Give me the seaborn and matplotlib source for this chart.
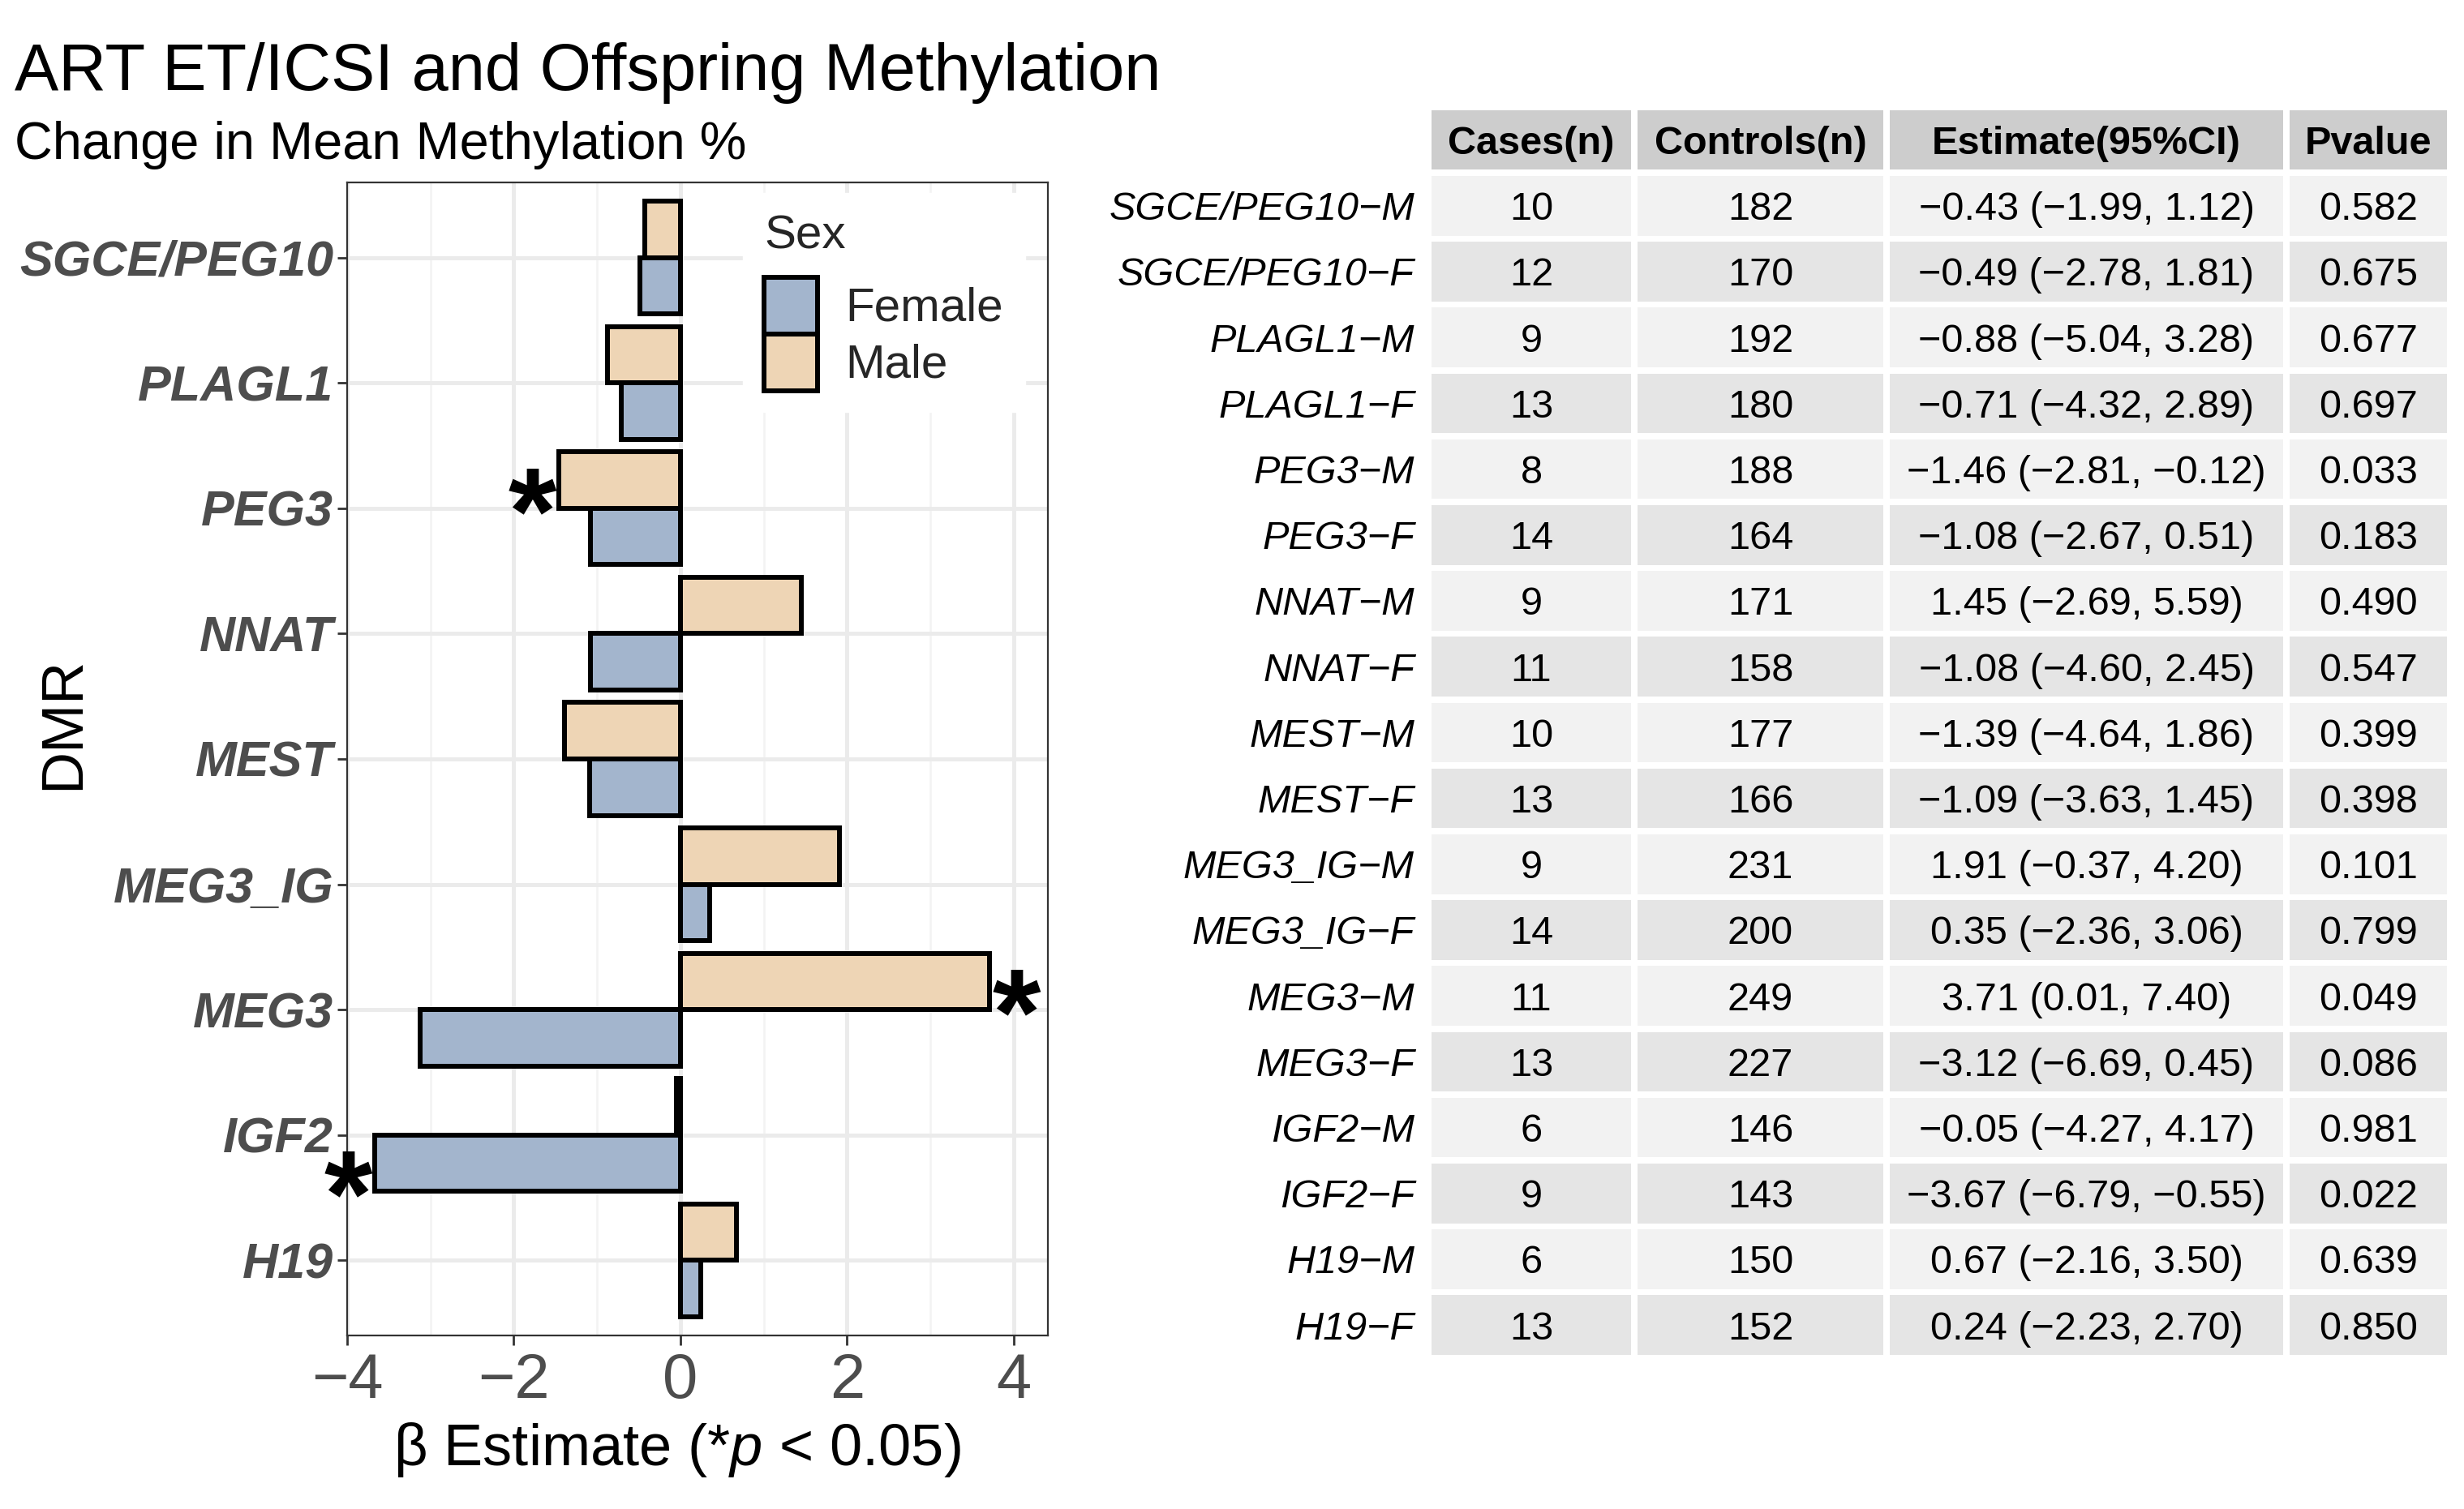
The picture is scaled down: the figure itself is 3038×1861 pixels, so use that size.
import numpy as np
import pandas as pd
import matplotlib
matplotlib.use("Agg")
import matplotlib.pyplot as plt
from matplotlib.patches import Patch, Rectangle
from matplotlib.ticker import MultipleLocator
import seaborn as sns

# ---------------- data ----------------
dmr = ['SGCE/PEG10', 'PLAGL1', 'PEG3', 'NNAT', 'MEST', 'MEG3_IG', 'MEG3', 'IGF2', 'H19']
est_m = [-0.43, -0.88, -1.46, 1.45, -1.39, 1.91, 3.71, -0.05, 0.67]
est_f = [-0.49, -0.71, -1.08, -1.08, -1.09, 0.35, -3.12, -3.67, 0.24]
lo_m = [-1.99, -5.04, -2.81, -2.69, -4.64, -0.37, 0.01, -4.27, -2.16]
hi_m = [1.12, 3.28, -0.12, 5.59, 1.86, 4.20, 7.40, 4.17, 3.50]
lo_f = [-2.78, -4.32, -2.67, -4.60, -3.63, -2.36, -6.69, -6.79, -2.23]
hi_f = [1.81, 2.89, 0.51, 2.45, 1.45, 3.06, 0.45, -0.55, 2.70]
cases_m = [10, 9, 8, 9, 10, 9, 11, 6, 6]
cases_f = [12, 13, 14, 11, 13, 14, 13, 9, 13]
ctrl_m = [182, 192, 188, 171, 177, 231, 249, 146, 150]
ctrl_f = [170, 180, 164, 158, 166, 200, 227, 143, 152]
p_m = [0.582, 0.677, 0.033, 0.490, 0.399, 0.101, 0.049, 0.981, 0.639]
p_f = [0.675, 0.697, 0.183, 0.547, 0.398, 0.799, 0.086, 0.022, 0.850]
table_cols = ['Cases(n)', 'Controls(n)', 'Estimate(95%CI)', 'Pvalue']

FEMALE = '#A3B5CD'
MALE = '#EED5B5'

# ---------------- style ----------------
sns.set_style('white')
plt.rcParams['font.family'] = ['Liberation Sans', 'DejaVu Sans']
plt.rcParams['mathtext.fontset'] = 'custom'
plt.rcParams['mathtext.rm'] = 'Liberation Sans'
plt.rcParams['mathtext.it'] = 'Liberation Sans:italic'
plt.rcParams['axes.unicode_minus'] = True

W, H = 3038, 1861
fig = plt.figure(figsize=(W / 100, H / 100), dpi=100)
fig.patch.set_facecolor('white')

# table axes (pixel coordinates of the figure)
tax = fig.add_axes([0, 0, 1, 1])
tax.set_xlim(0, W)
tax.set_ylim(H, 0)
tax.axis('off')

ax = fig.add_axes([428 / W, 1 - 1647 / H, 864 / W, 1422 / H])

# ---------------- bars ----------------
rows = []
for i, g in enumerate(dmr):
    rows.append({'DMR': g, 'Sex': 'Male', 'Estimate': est_m[i], 'p': p_m[i]})
    rows.append({'DMR': g, 'Sex': 'Female', 'Estimate': est_f[i], 'p': p_f[i]})
df = pd.DataFrame(rows)

EDGE_LW = 4.3
sns.barplot(data=df, y='DMR', x='Estimate', hue='Sex', order=dmr,
            hue_order=['Male', 'Female'], palette={'Male': MALE, 'Female': FEMALE},
            width=0.9, saturation=1, edgecolor='black', linewidth=EDGE_LW,
            errorbar=None, orient='h', legend=False, ax=ax, zorder=3)

ax.set_xlim(-4.0, 4.41)
ax.set_ylim(8.6, -0.6)
ax.set_xticks([-4, -2, 0, 2, 4])
ax.xaxis.set_minor_locator(MultipleLocator(1))
ax.set_axisbelow(True)
ax.grid(which='major', axis='both', color='#EBEBEB', linewidth=3.6)
ax.grid(which='minor', axis='x', color='#F3F3F3', linewidth=1.8)
for s in ax.spines.values():
    s.set_visible(True)
    s.set_color('#333333')
    s.set_linewidth(1.6)
ax.tick_params(which='major', direction='out', length=8.6, width=2, color='#333333',
               left=True, bottom=True)
ax.tick_params(which='minor', length=0)
ax.tick_params(axis='x', labelsize=56, labelcolor='#4D4D4D', pad=5.8)
ax.tick_params(axis='y', labelsize=44, labelcolor='#4D4D4D', pad=3.6)
for lbl in ax.get_yticklabels():
    lbl.set_fontstyle('italic')
    lbl.set_fontweight('bold')

# significance stars
star_fs = 110
for i, g in enumerate(dmr):
    for est, p, off in ((est_m[i], p_m[i], -0.225), (est_f[i], p_f[i], 0.225)):
        if p < 0.05:
            ax.annotate('*', xy=(est + np.sign(est) * 0.32, i + off),
                        xytext=(0, -0.30 * star_fs - 3.6), textcoords='offset points',
                        ha='center', va='center', fontsize=star_fs, fontweight='bold',
                        color='black', annotation_clip=False, zorder=5)

ax.set_xlabel('β Estimate (*$\\mathit{p}$ < 0.05)', fontsize=52, color='black')
ax.xaxis.set_label_coords(0.471, -0.074)
ax.set_ylabel('DMR', fontsize=52, color='black')
ax.yaxis.set_label_coords(-0.366, 0.531)

leg = ax.legend(handles=[Patch(facecolor=FEMALE, edgecolor='black', linewidth=EDGE_LW, label='Female'),
                         Patch(facecolor=MALE, edgecolor='black', linewidth=EDGE_LW, label='Male')],
                title='Sex', loc='upper left', bbox_to_anchor=(0.565, 0.991),
                frameon=True, fancybox=False, framealpha=1, facecolor='white',
                edgecolor='white', fontsize=42, title_fontsize=42,
                handlelength=1.12, handleheight=1.47, handletextpad=0.6,
                labelspacing=0, borderpad=0.45, borderaxespad=0, alignment='left')
leg._legend_box.sep = 17

# ---------------- titles ----------------
fig.text(18 / W, 1 - 111 / H, 'ART ET/ICSI and Offspring Methylation', fontsize=58.5,
         ha='left', va='baseline', color='black')
fig.text(18 / W, 1 - 196 / H, 'Change in Mean Methylation %', fontsize=46.7,
         ha='left', va='baseline', color='black')

# ---------------- table ----------------
def fmt(v):
    return f'{v:.2f}'.replace('-', '\u2212')

labels, cells = [], []
for i, g in enumerate(dmr):
    labels.append(f'{g}\u2212M')
    cells.append([str(cases_m[i]), str(ctrl_m[i]),
                  f'{fmt(est_m[i])} ({fmt(lo_m[i])}, {fmt(hi_m[i])})', f'{p_m[i]:.3f}'])
    labels.append(f'{g}\u2212F')
    cells.append([str(cases_f[i]), str(ctrl_f[i]),
                  f'{fmt(est_f[i])} ({fmt(lo_f[i])}, {fmt(hi_f[i])})', f'{p_f[i]:.3f}'])

col_edges = [(1765, 2011), (2019, 2322), (2330, 2815), (2823, 3017)]
top, pitch, gap = 132.0, 81.2, 3.8
label_right = 1744
tfs = 35

def row_box(k):
    y0 = top + k * pitch + gap
    return y0, pitch - 2 * gap, top + (k + 0.5) * pitch

y0, hh, yc = row_box(0)
for (a, b), name in zip(col_edges, table_cols):
    tax.add_patch(Rectangle((a, y0), b - a, hh, facecolor='#CDCDCD', edgecolor='none'))
    tax.text((a + b) / 2, yc, name, ha='center', va='center_baseline', fontsize=tfs,
             fontweight='bold', color='black')

for r, (lab, vals) in enumerate(zip(labels, cells)):
    y0, hh, yc = row_box(r + 1)
    bg = '#F2F2F2' if r % 2 == 0 else '#E5E5E5'
    tax.text(label_right, yc, lab, ha='right', va='center_baseline', fontsize=tfs,
             fontstyle='italic', color='black')
    for (a, b), v in zip(col_edges, vals):
        tax.add_patch(Rectangle((a, y0), b - a, hh, facecolor=bg, edgecolor='none'))
        tax.text((a + b) / 2, yc, v, ha='center', va='center_baseline', fontsize=tfs,
                 color='black')

fig.savefig('out.png', dpi=100, facecolor='white')
